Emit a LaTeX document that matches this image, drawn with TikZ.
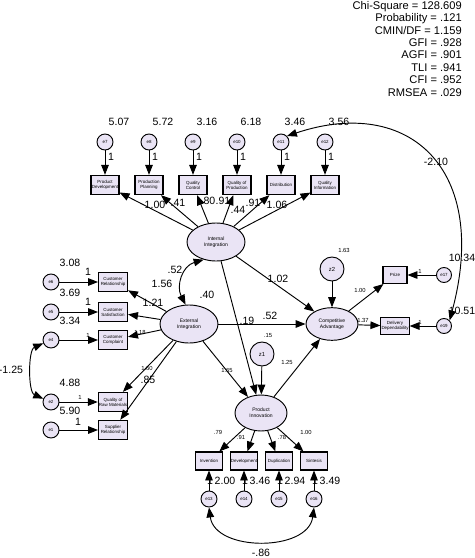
\documentclass[tikz,border=0pt]{standalone}
\usepackage{fontspec}
\setmainfont{Liberation Sans}
\usetikzlibrary{arrows.meta,shapes.geometric}
\definecolor{lav}{RGB}{234,228,245}

\begin{document}
\begin{tikzpicture}[x=0.03cm,y=0.03cm,>={Triangle[length=8.5pt,width=6.5pt]},
  every node/.style={font=\fontsize{9}{10}\selectfont},
  obs/.style={draw,line width=0.9pt,fill=lav,minimum width=0.84cm,minimum height=0.58cm,inner sep=0.5pt,align=center,font=\fontsize{3.8}{4.3}\selectfont},
  err/.style={draw,line width=0.8pt,circle,fill=lav,minimum size=0.48cm,inner sep=0pt,font=\fontsize{3.8}{4}\selectfont},
  lat/.style={draw,line width=0.8pt,ellipse,fill=lav,inner sep=0pt,align=center,font=\fontsize{4.3}{5}\selectfont},
  sm/.style={font=\fontsize{5}{6}\selectfont},
  arr/.style={->,line width=0.8pt}]
\useasboundingbox (0,0) rectangle (474,-558);
% fit indices
\node[anchor=north east,inner sep=0pt,align=right,font=\fontsize{9.5}{10.6}\selectfont] (fit) at (462,-1)
  {Chi-Square = 128.609\\Probability = .121\\CMIN/DF = 1.159\\GFI = .928\\AGFI = .901\\TLI = .941\\CFI = .952\\RMSEA = .029};
% latent variables
\node[lat,minimum width=1.74cm,minimum height=1.14cm] (II) at (216,-242) {Internal\\Integration};
\node[lat,minimum width=1.74cm,minimum height=1.14cm] (EI) at (189,-324) {External\\Integration};
\node[lat,minimum width=1.56cm,minimum height=0.98cm] (CA) at (332,-324) {Competitive\\Advantage};
\node[lat,minimum width=1.56cm,minimum height=1.08cm] (PI) at (261,-413) {Product\\Innovation};
\node[err,minimum size=0.72cm,font=\fontsize{5}{6}\selectfont] (z1) at (262,-354) {z1};
\node[err,minimum size=0.72cm,font=\fontsize{5}{6}\selectfont] (z2) at (332,-269) {z2};
% internal integration indicators
\foreach \n/\x/\v/\lab in {7/105/5.07/{Product\\Development},8/149/5.72/{Production\\Planning},
    9/193/3.16/{Quality\\Control},10/237/6.18/{Quality of\\Production},
    11/281/3.46/{Distribution},12/325/3.56/{Quality\\Information}}{
  \node[err] (e\n) at (\x,-142) {e\n};
  \node[obs] (b\n) at (\x,-185) {\lab};
  \node (v\n) at (\x+14,-122) {\v};
  \node (o\n) at (\x+6,-157) {1};
  \draw[arr] (e\n) -- (b\n);
  \draw[arr] (II) -- (b\n);
}
\foreach \i/\x/\y/\t in {1/155/205/1.00,2/178/203/.41,3/208/201/.80,4/223/201/.91,5/238/210/.44,6/253/203/.91,7/277/205/1.06}
  \node (lt\i) at (\x,-\y) {\t};
% external integration indicators
\foreach \n/\y/\v/\lab in {6/282/3.08/{Customer\\Relationship},5/312/3.69/{Customer\\Satisfaction},
    4/340/3.34/{Customer\\Complaint},2/402/4.88/{Quality of\\Raw Materials},1/430/5.90/{Supplier\\Relationship}}{
  \node[err] (e\n) at (51,-\y) {e\n};
  \node[obs,minimum width=0.87cm] (b\n) at (113,-\y) {\lab};
  \node (v\n) at (70,-\y+19) {\v};
  \draw[arr] (e\n) -- (b\n);
  \draw[arr] (EI) -- (b\n);
}
\node (o6) at (88,-272) {1};
\node (o5) at (88,-302) {1};
\node[sm] (o4) at (88,-335) {1};
\node[sm] (o2) at (80,-397) {1};
\node (o1) at (78,-422) {1};
\node (ll1) at (162,-284) {1.56};
\node (ll2) at (153,-303) {1.21};
\node[sm] (ll3) at (140,-332) {1.18};
\node[sm] (ll4) at (147,-368) {1.60};
\node (ll5) at (148,-380) {.85};
\draw[<->,line width=0.8pt] (e4) .. controls (28,-350) and (28,-392) .. (e2);
\node (c1) at (11,-370) {-1.25};
% product innovation indicators
\foreach \n/\x/\v/\lab in {13/209/2.00/Invention,14/244/3.46/Development,15/279/2.94/Duplication,16/314/3.49/Sintesis}{
  \node[err] (e\n) at (\x,-499) {e\n};
  \node[obs,minimum width=0.81cm,minimum height=0.54cm] (b\n) at (\x,-461) {\lab};
  \node (v\n) at (\x+16,-481) {\v};
  \node (o\n) at (\x+1,-481) {1};
  \draw[arr] (e\n) -- (b\n);
  \draw[arr] (PI) -- (b\n);
}
\foreach \i/\x/\y/\t in {1/218/432/.79,2/241/437/.91,3/282/437/.78,4/306/432/1.00}
  \node[sm] (lp\i) at (\x,-\y) {\t};
\draw[<->,line width=0.8pt] (e13.south) .. controls (215,-552) and (308,-552) .. (e16.south);
\node (c2) at (261,-553) {-.86};
% competitive advantage indicators
\node[obs,minimum width=0.72cm,minimum height=0.51cm] (b17) at (395,-275) {Prize};
\node[obs,minimum width=0.72cm,minimum height=0.51cm] (b19) at (395,-326) {Delivery\\Dependability};
\node[err,minimum size=0.45cm] (e17) at (444,-275) {e17};
\node[err,minimum size=0.45cm] (e19) at (444,-326) {e19};
\draw[arr] (e17) -- (b17);
\draw[arr] (e19) -- (b19);
\draw[arr] (CA) -- (b17);
\draw[arr] (CA) -- (b19);
\node[sm] (o17) at (420,-271) {1};
\node[sm] (o19) at (420,-322) {1};
\node[sm] (lc1) at (360,-290) {1.00};
\node[sm] (lc2) at (363,-320) {1.37};
\node (v17) at (462,-258) {10.34};
\node (v19) at (462,-311) {10.51};
\draw[<->,line width=0.8pt] (e11.north east) .. controls (410,-95) and (490,-170) .. (e19.north east);
\node (c3) at (436,-162) {-2.10};
% structural paths
\draw[<->,line width=0.8pt] (II.235) .. controls (182,-266) and (176,-286) .. (EI.100);
\node (c4) at (175,-270) {.52};
\draw[arr] (II) -- (CA);
\draw[arr] (II) -- (PI);
\draw[arr] (EI) -- (CA);
\draw[arr] (EI) -- (PI);
\draw[arr] (PI) -- (CA);
\draw[arr] (z1) -- (PI);
\draw[arr] (z2) -- (CA);
\node (s1) at (278,-279) {1.02};
\node (s2) at (207,-295) {.40};
\node (s3) at (247,-321) {.19};
\node (s4) at (270,-316) {.52};
\node[sm] (s5) at (227,-370) {1.65};
\node[sm] (s6) at (287,-362) {1.25};
\node[sm] (s7) at (344,-250) {1.63};
\node[sm] (s8) at (268,-336) {.15};
\end{tikzpicture}
\end{document}
